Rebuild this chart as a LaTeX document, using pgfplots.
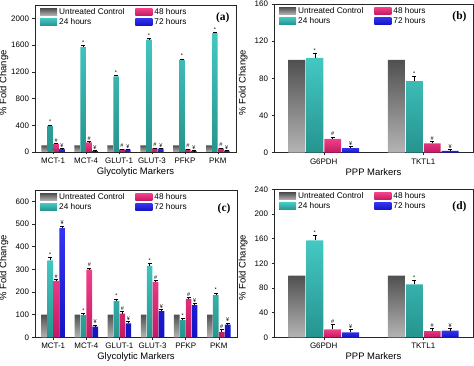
\documentclass[border=0pt]{standalone}
\usepackage{pgfplots}
\pgfplotsset{compat=1.18}
\usepackage{pgfplotstable}
\usepackage{fontspec}
\setmainfont{Liberation Sans}
\newfontfamily\serifb{Liberation Serif}

\definecolor{ctrlT}{HTML}{505050}
\definecolor{ctrlB}{HTML}{B4B4B4}
\definecolor{tealT}{HTML}{44C8C2}
\definecolor{tealB}{HTML}{26948F}
\definecolor{pinkT}{HTML}{F2408A}
\definecolor{pinkB}{HTML}{C21A62}
\definecolor{blueT}{HTML}{3434F2}
\definecolor{blueB}{HTML}{1414C4}

% panel (a)
\pgfplotstableread{
x c h24 e24 h48 e48 h72 e72
1 100 390 15 120 10 45 5
2 100 1570 30 145 10 15 5
3 100 1130 15 40 8 35 5
4 100 1680 15 55 8 50 5
5 100 1380 15 40 8 15 5
6 100 1780 15 55 8 20 5
}\tA
% panel (b)
\pgfplotstableread{
x c h24 e24 h48 e48 h72 e72
1 100 102 5 15 2 5 1.5
2 100 77 5 10 2 2 1.5
}\tB
% panel (c)
\pgfplotstableread{
x c h24 e24 h48 e48 h72 e72
1 100 340 12 249 8 482 10
2 100 98 8 299 7 47 8
3 100 161 9 105 9 61 8
4 100 315 10 245 6 116 8
5 100 76 8 170 7 142 6
6 100 186 10 23 12 56 8
}\tC
% panel (d)
\pgfplotstableread{
x c h24 e24 h48 e48 h72 e72
1 100 157 8 13 8 8 5
2 100 86 6 10 4 11 3
}\tD

\pgfplotsset{
  barbase/.style={ybar, bar width=0.17, bar shift=0, draw=none,
    legend image code/.code={\path[##1,draw=none] (0bp,-3.6bp) rectangle (17bp,3.6bp);}},
  errb/.style={error bars/.cd, y dir=plus, y explicit,
    error bar style={black, line width=0.55pt},
    error mark options={rotate=90, mark size=2bp, black, line width=0.55pt}},
  ann/.style={only marks, mark=*, mark size=0pt, draw=none, fill=none, forget plot,
    nodes near coords={#1},
    every node near coord/.append style={font=\fontsize{5.5}{6}\selectfont, anchor=south, inner sep=0.8bp, text=black}},
  panel/.style={scale only axis, anchor=south west,
    axis line style={black!85, line width=0.6pt},
    tick style={black!85, line width=0.5pt},
    tick align=outside, major tick length=2.5bp,
    ytick pos=left, xtick pos=bottom,
    ymin=0,
    /pgf/number format/assume math mode=true,
    /pgf/number format/1000 sep={},
    tick label style={font=\fontsize{8}{9}\selectfont},
    label style={font=\fontsize{9.5}{11}\selectfont},
    ylabel={\% Fold Change},
    ylabel style={at={(axis description cs:-0.115,0.47)}, anchor=south, rotate=0},
    xlabel style={at={(axis description cs:0.5,0)}, anchor=north, yshift=-12bp},
    legend cell align=left,
    legend style={draw=none, fill=none, at={(axis description cs:0.02,1)}, anchor=north west,
      font=\fontsize{8.3}{9}\selectfont, inner sep=1bp, row sep=-1.5bp,
      /tikz/every even column/.append style={column sep=9bp}},
    legend columns=2, transpose legend,
  },
}

\newcommand{\bars}[1]{%
  \addplot[barbase, top color=ctrlT, bottom color=ctrlB] table[x expr=\thisrow{x}-0.27,y=c]{#1};
  \addplot[barbase, top color=tealT, bottom color=tealB, errb] table[x expr=\thisrow{x}-0.09,y=h24,y error=e24]{#1};
  \addplot[barbase, top color=pinkT, bottom color=pinkB, errb] table[x expr=\thisrow{x}+0.09,y=h48,y error=e48]{#1};
  \addplot[barbase, top color=blueT, bottom color=blueB, errb] table[x expr=\thisrow{x}+0.27,y=h72,y error=e72]{#1};
  \addplot[ann={*}] table[x expr=\thisrow{x}-0.09, y expr=\thisrow{h24}+\thisrow{e24}]{#1};
  \addplot[ann={\#}] table[x expr=\thisrow{x}+0.09, y expr=\thisrow{h48}+\thisrow{e48}]{#1};
  \addplot[ann={¥}] table[x expr=\thisrow{x}+0.27, y expr=\thisrow{h72}+\thisrow{e72}]{#1};
  \legend{Untreated Control, 24 hours, 48 hours, 72 hours}
}

\begin{document}
\begin{tikzpicture}
\useasboundingbox (0,0) rectangle (474bp,366bp);

\begin{axis}[panel, at={(35bp,214bp)}, width=201bp, height=147bp,
  xmin=0.45, xmax=6.55, ymax=2200, ytick={0,400,...,2000},
  xtick={1,...,6}, xticklabels={MCT-1,MCT-4,GLUT-1,GLUT-3,PFKP,PKM}, xlabel={Glycolytic Markers}]
  \bars{\tA}
  \node[font=\serifb\bfseries\fontsize{11.5}{12}\selectfont, anchor=north east] at (rel axis cs:0.985,0.975) {(a)};
\end{axis}

\begin{axis}[panel, at={(274bp,213.3bp)}, width=199bp, height=148.7bp,
  xmin=0.5, xmax=2.5, ymax=160, ytick={0,40,...,160},
  xtick={1,2}, xticklabels={G6PDH,TKTL1}, xlabel={PPP Markers}]
  \bars{\tB}
  \node[font=\serifb\bfseries\fontsize{11.5}{12}\selectfont, anchor=north east] at (rel axis cs:0.985,0.975) {(b)};
\end{axis}

\begin{axis}[panel, at={(35bp,28.7bp)}, width=202bp, height=147.3bp,
  xmin=0.45, xmax=6.55, ymax=650, ytick={0,100,...,600},
  xtick={1,...,6}, xticklabels={MCT-1,MCT-4,GLUT-1,GLUT-3,PFKP,PKM}, xlabel={Glycolytic Markers}]
  \bars{\tC}
  \node[font=\serifb\bfseries\fontsize{11.5}{12}\selectfont, anchor=north east] at (rel axis cs:0.985,0.935) {(c)};
\end{axis}

\begin{axis}[panel, at={(274bp,28.7bp)}, width=199bp, height=148bp,
  xmin=0.5, xmax=2.5, ymax=240, ytick={0,40,...,240},
  xtick={1,2}, xticklabels={G6PDH,TKTL1}, xlabel={PPP Markers}]
  \bars{\tD}
  \node[font=\serifb\bfseries\fontsize{11.5}{12}\selectfont, anchor=north east] at (rel axis cs:0.985,0.94) {(d)};
\end{axis}
\end{tikzpicture}
\end{document}
